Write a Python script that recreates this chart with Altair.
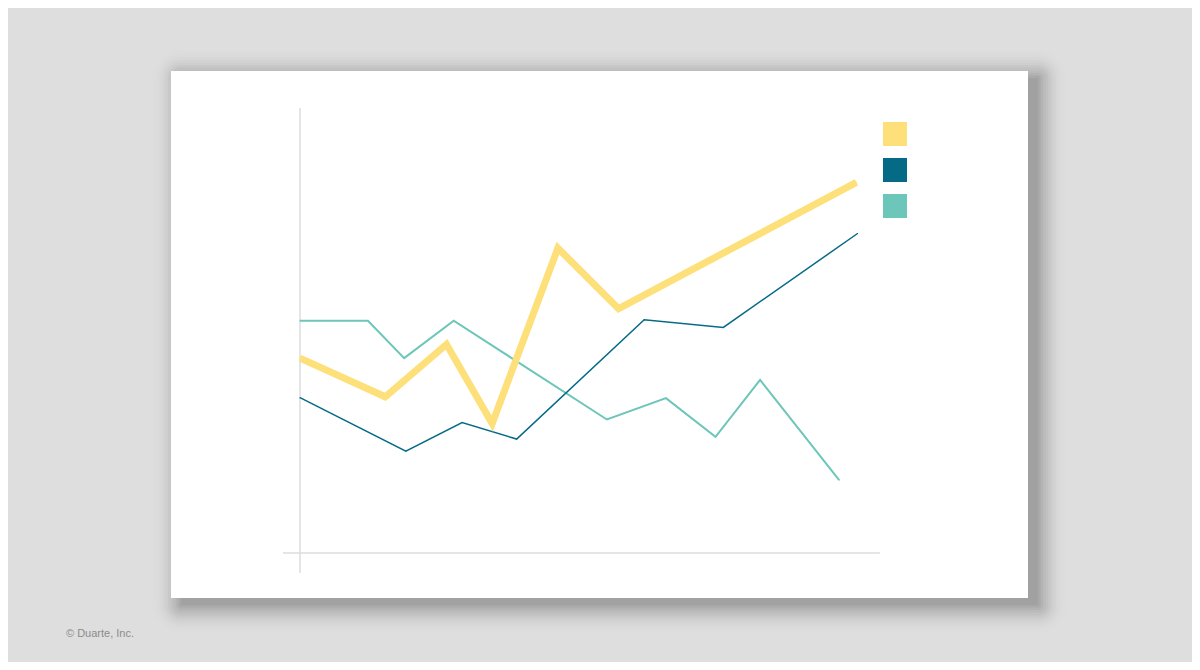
import altair as alt
import pandas as pd

# ---------------- data ----------------
series_names = ["Series A", "Series B", "Series C"]
series_colors = ["#fde07a", "#046a86", "#6cc6b9"]

a_x = [0, 15.3, 26.3, 34.5, 46.3, 57.2, 99.9]
a_y = [43.8, 35.1, 46.9, 29.1, 68.5, 54.9, 83.3]

b_x = [0, 19.0, 29.1, 38.9, 61.8, 76.0, 100.1]
b_y = [34.9, 22.9, 29.3, 25.6, 52.4, 50.7, 71.8]

c_x = [0, 12.2, 18.7, 27.6, 55.1, 65.7, 74.6, 82.6, 96.8]
c_y = [52.2, 52.2, 43.8, 52.2, 30.0, 34.8, 26.1, 38.9, 16.4]

# axis line extents (data units)
y_axis_extent = [-4.5, 100]
x_axis_extent = [-3.05, 104.1]

copyright_text = "© Duarte, Inc."

# ---------------- build ----------------
rows = []
for name, xs_, ys_ in zip(series_names, [a_x, b_x, c_x], [a_y, b_y, c_y]):
    for i, (xv, yv) in enumerate(zip(xs_, ys_)):
        rows.append({"series": name, "x": xv, "y": yv, "i": i})
df = pd.DataFrame(rows)

W, H = 857, 527
xscale = alt.Scale(domain=[0, 100], range=[129, 686], nice=False, zero=False)
yscale = alt.Scale(domain=[0, 100], range=[482, 37], nice=False, zero=False)
cscale = alt.Scale(domain=series_names, range=series_colors)

legend = alt.Legend(
    title=None, orient="none", legendX=712, legendY=51,
    symbolType="square", symbolSize=576, symbolStrokeWidth=0,
    symbolOpacity=1, labelExpr="''", labelFontSize=1, rowPadding=12,
    padding=0, offset=0,
)

one = pd.DataFrame({"k": [0]})

# shadow
shadow_layers = []
N = 12
dx, dy = 10, 7
for i in range(N):
    e = i * 2.6
    a = 0.05 * (1 - i / N) ** 1.3
    shadow_layers.append(
        alt.Chart(one).mark_rect(color="#000000", opacity=a, cornerRadius=e).encode(
            x=alt.value(dx - e), x2=alt.value(W + dx + e),
            y=alt.value(dy - e), y2=alt.value(H + dy + e),
        )
    )

card = alt.Chart(one).mark_rect(color="#ffffff").encode(
    x=alt.value(0), x2=alt.value(W), y=alt.value(0), y2=alt.value(H)
)

vaxis = alt.Chart(pd.DataFrame({"x": [0], "y": [y_axis_extent[0]], "y2": [y_axis_extent[1]]})).mark_rule(
    color="#dddddd", strokeWidth=1.5
).encode(
    x=alt.X("x:Q", scale=xscale, axis=None),
    y=alt.Y("y:Q", scale=yscale, axis=None),
    y2="y2:Q",
)
haxis = alt.Chart(pd.DataFrame({"y": [0], "x": [x_axis_extent[0]], "x2": [x_axis_extent[1]]})).mark_rule(
    color="#dddddd", strokeWidth=1.5
).encode(
    y=alt.Y("y:Q", scale=yscale, axis=None),
    x=alt.X("x:Q", scale=xscale, axis=None),
    x2="x2:Q",
)

# small filled squares at the vertices (hidden under the lines) that carry the legend
legend_layer = alt.Chart(df).mark_square(size=1, filled=True, opacity=1).encode(
    x=alt.X("x:Q", scale=xscale, axis=None),
    y=alt.Y("y:Q", scale=yscale, axis=None),
    color=alt.Color("series:N", scale=cscale, legend=legend),
)

def line_layer(name, width):
    return alt.Chart(df).transform_filter(alt.datum.series == name).mark_line(
        strokeWidth=width, strokeJoin="miter", strokeCap="butt"
    ).encode(
        x=alt.X("x:Q", scale=xscale, axis=None),
        y=alt.Y("y:Q", scale=yscale, axis=None),
        stroke=alt.Stroke("series:N", scale=cscale, legend=None),
        order="i:O",
    )

lines = [line_layer(series_names[2], 2), line_layer(series_names[1], 1.5), line_layer(series_names[0], 7)]

note = alt.Chart(one).mark_text(
    text=copyright_text, align="left", baseline="alphabetic",
    font="Liberation Sans", fontSize=11, color="#8c8c8c",
).encode(x=alt.value(-105), y=alt.value(566))

chart = alt.layer(*shadow_layers, card, vaxis, haxis, legend_layer, *lines, note).properties(
    width=W, height=H,
    autosize=alt.AutoSizeParams(type="none"),
    padding={"left": 163, "top": 63, "right": 164, "bottom": 64},
    background="#dedede",
).configure_view(stroke=None)

chart.save("out.html", embed_options={"renderer": "svg", "actions": False})
